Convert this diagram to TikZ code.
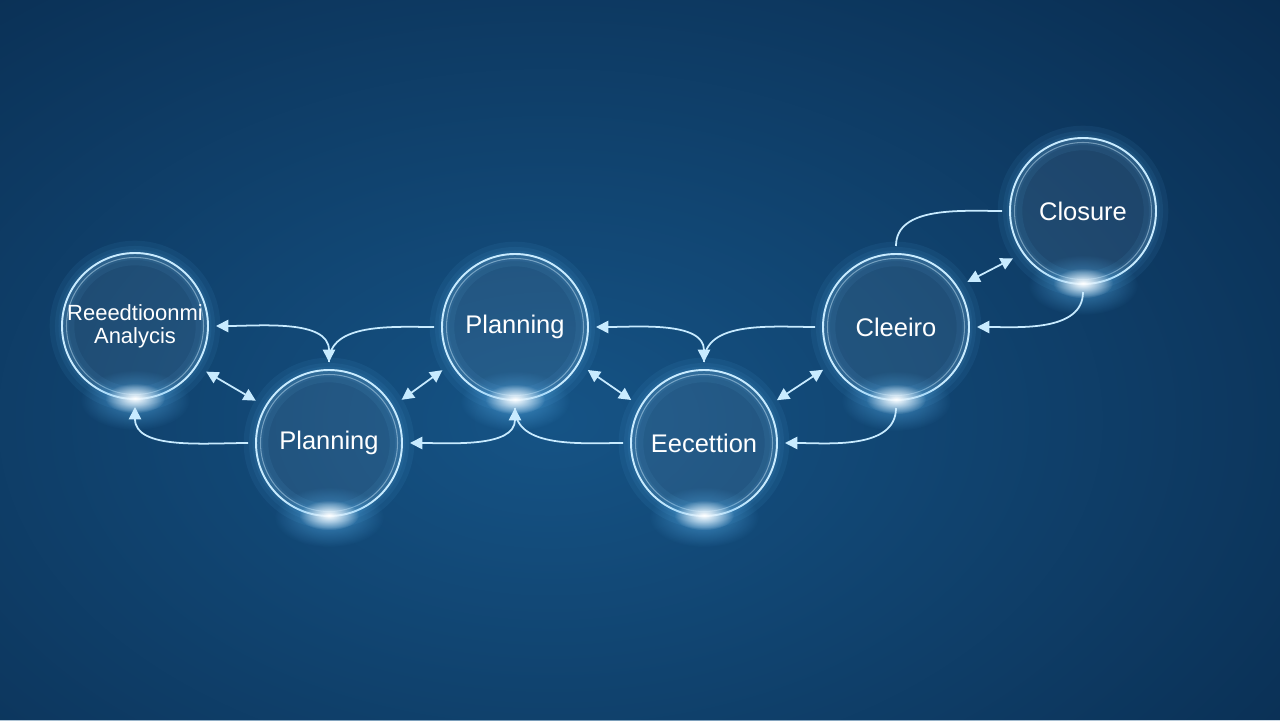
\documentclass[tikz,border=0pt]{standalone}
\usepackage{fontspec}
\setmainfont{Liberation Sans}
\usetikzlibrary{arrows.meta,backgrounds,fadings}

\definecolor{bgdark}{RGB}{8,40,74}
\definecolor{bglight}{RGB}{22,84,134}
\definecolor{ringc}{RGB}{200,235,255}
\definecolor{glowc}{RGB}{90,180,240}

\tikzfading[name=glowfade, inner color=transparent!0, outer color=transparent!100]

\tikzset{
  phase/.style={circle, minimum size=2.92cm, inner sep=0pt, draw=ringc, line width=1.1pt,
    fill=white, fill opacity=0.07, text opacity=1, text=white, align=center,
    font=\fontsize{14.5}{16}\selectfont},
  link/.style={draw=ringc, line width=1pt, shorten <=4pt, shorten >=4pt,
    >={Triangle[length=7pt,width=7pt]}},
  straight/.style={link, shorten <=6pt, shorten >=6pt},
}

\begin{document}
\begin{tikzpicture}
  \useasboundingbox (0,0) rectangle (25.6,14.4);

  \draw (2.7,7.88) node[phase, font=\fontsize{12.5}{13}\selectfont] (analysis) {Reeedtioonmi\\Analycis};
  \draw (6.58,5.54) node[phase] (planlow) {Planning};
  \draw (10.3,7.86) node[phase] (planhigh) {Planning};
  \draw (14.08,5.54) node[phase] (exec) {Eecettion};
  \draw (17.92,7.86) node[phase] (cleeiro) {Cleeiro};
  \draw (21.66,10.18) node[phase] (closure) {Closure};

  % backdrop and halos
  \begin{scope}[on background layer]
    \fill[bgdark] (0,0) rectangle (25.6,14.4);
    \fill[bglight, path fading=glowfade] (11,6) ellipse (22 and 14);
    \foreach \n in {analysis,planlow,planhigh,exec,cleeiro,closure} {
      \foreach \w in {14pt,8pt,4pt}
        \draw[glowc, line width=\w, opacity=0.08] (\n.center) circle (1.46);
      \draw[ringc, line width=0.6pt, opacity=0.45] (\n.center) circle (1.37);
    }
  \end{scope}

  % bright spots at the bottom
  \foreach \n in {analysis,planlow,planhigh,exec,cleeiro,closure} {
    \fill[glowc, opacity=0.6, path fading=glowfade] (\n.south) ellipse (1.1 and 0.6);
    \fill[white, path fading=glowfade] ([yshift=1pt]\n.south) ellipse (0.6 and 0.3);
  }

  \draw[link,<->] (analysis.east) to[out=0,in=90] (planlow.north);
  \draw[link] (planhigh.west) to[out=180,in=90] (planlow.north);
  \draw[straight,<->] (analysis.-33) -- (planlow.150);
  \draw[link,->] (planlow.west) to[out=180,in=-90] (analysis.south);

  \draw[straight,<->] (planlow.30) -- (planhigh.210);
  \draw[link,<->] (planlow.east) to[out=0,in=-90] (planhigh.south);
  \draw[link] (exec.west) to[out=180,in=-90] (planhigh.south);

  \draw[link,<->] (planhigh.east) to[out=0,in=90] (exec.north);
  \draw[link] (cleeiro.west) to[out=180,in=90] (exec.north);
  \draw[straight,<->] (planhigh.-30) -- (exec.150);

  \draw[link,<-] (exec.east) to[out=0,in=-90] (cleeiro.south);
  \draw[straight,<->] (exec.30) -- (cleeiro.210);

  \draw[link] (cleeiro.north) to[out=90,in=180] (closure.west);
  \draw[straight,<->] (cleeiro.33) -- (closure.215);
  \draw[link,->] (closure.south) to[out=-90,in=0] (cleeiro.east);
\end{tikzpicture}
\end{document}
